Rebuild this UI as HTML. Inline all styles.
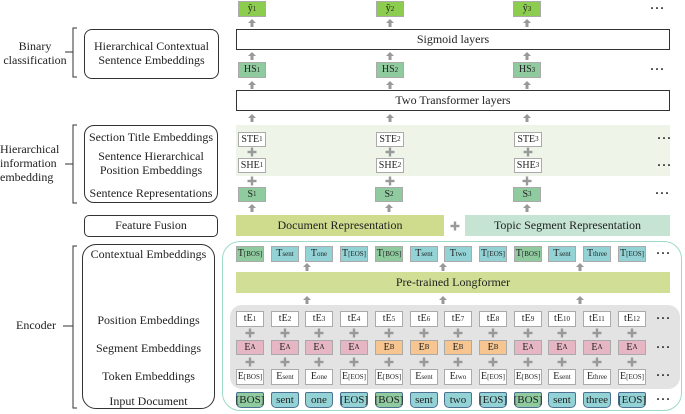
<!DOCTYPE html>
<html><head><meta charset="utf-8"><style>
body{margin:0;width:685px;height:414px;position:relative;background:#fff;font-family:"Liberation Serif",serif;color:#222;overflow:hidden}
.a{position:absolute;box-sizing:border-box}
.c{display:flex;align-items:center;justify-content:center;text-align:center;line-height:1.15}
.sm{font-size:10px;border:1px solid #aaa}
.lb{font-size:12px}
sub{font-size:7px;vertical-align:-2px}
.g{background:#8fcb9f}
.t{background:#93d3d6}
.w{background:#fff}
.p{background:#e7b6c4}
.o{background:#f7c58f}
.in{font-size:11px;border:1px solid #4d7291;border-radius:2px 2px 5px 5px}
.dots{font-size:12px;font-weight:bold;letter-spacing:1px}
</style></head><body>
<!-- left labels -->
<div class="a c lb" style="left:0;top:38px;width:70px;height:32px">Binary<br>classification</div>
<div class="a c lb" style="left:84px;top:29px;width:135px;height:50px;border:1px solid #333;border-radius:8px">Hierarchical Contextual<br>Sentence Embeddings</div>
<div class="a c lb" style="left:0;top:140px;width:64px;height:48px;justify-content:flex-start;text-align:left">Hierarchical<br>information<br>embedding</div>
<div class="a lb" style="left:84px;top:125px;width:134px;height:78px;border:1px solid #333;border-radius:10px"></div>
<div class="a c lb" style="left:84px;top:131px;width:134px">Section Title Embeddings</div>
<div class="a c lb" style="left:84px;top:150px;width:134px">Sentence Hierarchical<br>Position Embeddings</div>
<div class="a c lb" style="left:84px;top:187px;width:134px">Sentence Representations</div>
<div class="a c lb" style="left:84px;top:215px;width:134px;height:22px;border:1px solid #333;border-radius:5px">Feature Fusion</div>
<div class="a c lb" style="left:0;top:318px;width:72px;height:16px">Encoder</div>
<div class="a lb" style="left:82px;top:244px;width:133px;height:165px;border:1px solid #333;border-radius:14px"></div>
<div class="a c lb" style="left:82px;top:248px;width:133px">Contextual Embeddings</div>
<div class="a c lb" style="left:82px;top:314px;width:133px">Position Embeddings</div>
<div class="a c lb" style="left:82px;top:342px;width:133px">Segment Embeddings</div>
<div class="a c lb" style="left:82px;top:370px;width:133px">Token Embeddings</div>
<div class="a c lb" style="left:82px;top:395px;width:133px">Input Document</div>

<!-- right top -->
<div class="a" style="left:236px;top:125px;width:434px;height:51px;background:#eef5e8"></div>
<div class="a c sm" style="left:238px;top:1px;width:28px;height:16px;background:#8ccc4e">ŷ<sub>1</sub></div>
<div class="a c sm" style="left:376px;top:1px;width:28px;height:16px;background:#8ccc4e">ŷ<sub>2</sub></div>
<div class="a c sm" style="left:513px;top:1px;width:28px;height:16px;background:#8ccc4e">ŷ<sub>3</sub></div>
<div class="a dots" style="left:650px;top:1px">···</div>
<div class="a c lb" style="left:236px;top:29px;width:434px;height:21px;border:1px solid #333">Sigmoid layers</div>
<div class="a c sm g" style="left:238px;top:62px;width:28px;height:16px">HS<sub>1</sub></div>
<div class="a c sm g" style="left:376px;top:62px;width:28px;height:16px">HS<sub>2</sub></div>
<div class="a c sm g" style="left:513px;top:62px;width:28px;height:16px">HS<sub>3</sub></div>
<div class="a dots" style="left:650px;top:62px">···</div>
<div class="a c lb" style="left:236px;top:90px;width:434px;height:21px;border:1px solid #333">Two Transformer layers</div>
<div class="a c sm w" style="left:238px;top:132px;width:28px;height:15px">STE<sub>1</sub></div>
<div class="a c sm w" style="left:376px;top:132px;width:28px;height:15px">STE<sub>2</sub></div>
<div class="a c sm w" style="left:514px;top:132px;width:28px;height:15px">STE<sub>3</sub></div>
<div class="a dots" style="left:657px;top:131px">···</div>
<div class="a c sm w" style="left:238px;top:158px;width:28px;height:15px">SHE<sub>1</sub></div>
<div class="a c sm w" style="left:376px;top:158px;width:28px;height:15px">SHE<sub>2</sub></div>
<div class="a c sm w" style="left:514px;top:158px;width:28px;height:15px">SHE<sub>3</sub></div>
<div class="a dots" style="left:657px;top:158px">···</div>
<div class="a c sm g" style="left:238px;top:187px;width:28px;height:15px">S<sub>1</sub></div>
<div class="a c sm g" style="left:375px;top:187px;width:28px;height:15px">S<sub>2</sub></div>
<div class="a c sm g" style="left:513px;top:187px;width:28px;height:15px">S<sub>3</sub></div>
<div class="a dots" style="left:655px;top:186px">···</div>
<div class="a c lb" style="left:236px;top:215px;width:208px;height:21px;background:#cfdc8e">Document Representation</div>
<div class="a c lb" style="left:465px;top:215px;width:205px;height:21px;background:#c6e4d4">Topic Segment Representation</div>

<!-- encoder -->
<div class="a" style="left:222px;top:241px;width:460px;height:170px;border:1px solid #9ed9c8;border-radius:18px"></div>
<div class="a" style="left:230px;top:305px;width:450px;height:84px;background:#e3e3e3;border-radius:12px"></div>
<div class="a c lb" style="left:236px;top:272px;width:434px;height:21px;background:#d1de95">Pre-trained Longformer</div>

<div class="a c sm g" style="left:236px;top:246px;width:28px;height:16px">T<sub>[BOS]</sub></div>
<div class="a c sm t" style="left:271px;top:246px;width:28px;height:16px">T<sub>sent</sub></div>
<div class="a c sm t" style="left:305px;top:246px;width:28px;height:16px">T<sub>one</sub></div>
<div class="a c sm t" style="left:340px;top:246px;width:28px;height:16px">T<sub>[EOS]</sub></div>
<div class="a c sm g" style="left:375px;top:246px;width:28px;height:16px">T<sub>[BOS]</sub></div>
<div class="a c sm t" style="left:410px;top:246px;width:28px;height:16px">T<sub>sent</sub></div>
<div class="a c sm t" style="left:444px;top:246px;width:28px;height:16px">T<sub>two</sub></div>
<div class="a c sm t" style="left:479px;top:246px;width:28px;height:16px">T<sub>[EOS]</sub></div>
<div class="a c sm g" style="left:514px;top:246px;width:28px;height:16px">T<sub>[BOS]</sub></div>
<div class="a c sm t" style="left:548px;top:246px;width:28px;height:16px">T<sub>sent</sub></div>
<div class="a c sm t" style="left:583px;top:246px;width:28px;height:16px">T<sub>three</sub></div>
<div class="a c sm t" style="left:618px;top:246px;width:28px;height:16px">T<sub>[EOS]</sub></div>
<div class="a dots" style="left:656px;top:246px">···</div>

<div class="a c sm w" style="left:236px;top:311px;width:28px;height:16px">tE<sub>1</sub></div>
<div class="a c sm w" style="left:271px;top:311px;width:28px;height:16px">tE<sub>2</sub></div>
<div class="a c sm w" style="left:305px;top:311px;width:28px;height:16px">tE<sub>3</sub></div>
<div class="a c sm w" style="left:340px;top:311px;width:28px;height:16px">tE<sub>4</sub></div>
<div class="a c sm w" style="left:375px;top:311px;width:28px;height:16px">tE<sub>5</sub></div>
<div class="a c sm w" style="left:410px;top:311px;width:28px;height:16px">tE<sub>6</sub></div>
<div class="a c sm w" style="left:444px;top:311px;width:28px;height:16px">tE<sub>7</sub></div>
<div class="a c sm w" style="left:479px;top:311px;width:28px;height:16px">tE<sub>8</sub></div>
<div class="a c sm w" style="left:514px;top:311px;width:28px;height:16px">tE<sub>9</sub></div>
<div class="a c sm w" style="left:548px;top:311px;width:28px;height:16px">tE<sub>10</sub></div>
<div class="a c sm w" style="left:583px;top:311px;width:28px;height:16px">tE<sub>11</sub></div>
<div class="a c sm w" style="left:618px;top:311px;width:28px;height:16px">tE<sub>12</sub></div>
<div class="a dots" style="left:656px;top:311px">···</div>

<div class="a c sm p" style="left:236px;top:340px;width:28px;height:15px">E<sub>A</sub></div>
<div class="a c sm p" style="left:271px;top:340px;width:28px;height:15px">E<sub>A</sub></div>
<div class="a c sm p" style="left:305px;top:340px;width:28px;height:15px">E<sub>A</sub></div>
<div class="a c sm p" style="left:340px;top:340px;width:28px;height:15px">E<sub>A</sub></div>
<div class="a c sm o" style="left:375px;top:340px;width:28px;height:15px">E<sub>B</sub></div>
<div class="a c sm o" style="left:410px;top:340px;width:28px;height:15px">E<sub>B</sub></div>
<div class="a c sm o" style="left:444px;top:340px;width:28px;height:15px">E<sub>B</sub></div>
<div class="a c sm o" style="left:479px;top:340px;width:28px;height:15px">E<sub>B</sub></div>
<div class="a c sm p" style="left:514px;top:340px;width:28px;height:15px">E<sub>A</sub></div>
<div class="a c sm p" style="left:548px;top:340px;width:28px;height:15px">E<sub>A</sub></div>
<div class="a c sm p" style="left:583px;top:340px;width:28px;height:15px">E<sub>A</sub></div>
<div class="a c sm p" style="left:618px;top:340px;width:28px;height:15px">E<sub>A</sub></div>
<div class="a dots" style="left:656px;top:340px">···</div>

<div class="a c sm w" style="left:236px;top:369px;width:28px;height:16px">E<sub>[BOS]</sub></div>
<div class="a c sm w" style="left:271px;top:369px;width:28px;height:16px">E<sub>sent</sub></div>
<div class="a c sm w" style="left:305px;top:369px;width:28px;height:16px">E<sub>one</sub></div>
<div class="a c sm w" style="left:340px;top:369px;width:28px;height:16px">E<sub>[EOS]</sub></div>
<div class="a c sm w" style="left:375px;top:369px;width:28px;height:16px">E<sub>[BOS]</sub></div>
<div class="a c sm w" style="left:410px;top:369px;width:28px;height:16px">E<sub>sent</sub></div>
<div class="a c sm w" style="left:444px;top:369px;width:28px;height:16px">E<sub>two</sub></div>
<div class="a c sm w" style="left:479px;top:369px;width:28px;height:16px">E<sub>[EOS]</sub></div>
<div class="a c sm w" style="left:514px;top:369px;width:28px;height:16px">E<sub>[BOS]</sub></div>
<div class="a c sm w" style="left:548px;top:369px;width:28px;height:16px">E<sub>sent</sub></div>
<div class="a c sm w" style="left:583px;top:369px;width:28px;height:16px">E<sub>three</sub></div>
<div class="a c sm w" style="left:618px;top:369px;width:28px;height:16px">E<sub>[EOS]</sub></div>
<div class="a dots" style="left:656px;top:368px">···</div>

<div class="a c in g" style="left:236px;top:392px;width:28px;height:16px">[BOS]</div>
<div class="a c in t" style="left:271px;top:392px;width:28px;height:16px">sent</div>
<div class="a c in t" style="left:305px;top:392px;width:28px;height:16px">one</div>
<div class="a c in t" style="left:340px;top:392px;width:28px;height:16px">[EOS]</div>
<div class="a c in g" style="left:375px;top:392px;width:28px;height:16px">[BOS]</div>
<div class="a c in t" style="left:410px;top:392px;width:28px;height:16px">sent</div>
<div class="a c in t" style="left:444px;top:392px;width:28px;height:16px">two</div>
<div class="a c in t" style="left:479px;top:392px;width:28px;height:16px">[EOS]</div>
<div class="a c in g" style="left:514px;top:392px;width:28px;height:16px">[BOS]</div>
<div class="a c in t" style="left:548px;top:392px;width:28px;height:16px">sent</div>
<div class="a c in t" style="left:583px;top:392px;width:28px;height:16px">three</div>
<div class="a c in t" style="left:618px;top:392px;width:28px;height:16px">[EOS]</div>
<div class="a dots" style="left:656px;top:392px">···</div>

<svg class="a" style="left:0;top:0" width="685" height="414">
<defs>
<g id="ar"><polygon points="0,0 4,4 1.5,4 1.5,8 -1.5,8 -1.5,4 -4,4" fill="#999"/></g>
<g id="pl"><rect x="-4.5" y="-1.2" width="9" height="2.4" fill="#999"/><rect x="-1.2" y="-4.5" width="2.4" height="9" fill="#999"/></g>
</defs>
<g fill="none" stroke="#333" stroke-width="1">
<path d="M77,28 h-4 v49 h4 M73,52 h-8"/>
<path d="M77,125 h-4 v78 h4 M73,164 h-8"/>
<path d="M77,246 h-4 v162 h4 M73,326 h-10"/>
</g>
<use href="#ar" x="252" y="19"/><use href="#ar" x="390" y="19"/><use href="#ar" x="527" y="19"/>
<use href="#ar" x="252" y="52"/><use href="#ar" x="390" y="52"/><use href="#ar" x="527" y="52"/>
<use href="#ar" x="252" y="81"/><use href="#ar" x="390" y="81"/><use href="#ar" x="527" y="81"/>
<use href="#ar" x="252" y="114"/><use href="#ar" x="390" y="114"/><use href="#ar" x="527" y="114"/>
<use href="#ar" x="252" y="204"/><use href="#ar" x="389" y="204"/><use href="#ar" x="527" y="204"/>
<use href="#ar" x="307" y="263"/><use href="#ar" x="443" y="263"/><use href="#ar" x="580" y="263"/>
<use href="#ar" x="307" y="296"/><use href="#ar" x="443" y="296"/><use href="#ar" x="580" y="296"/>
<use href="#pl" x="252" y="152"/><use href="#pl" x="390" y="152"/><use href="#pl" x="528" y="152"/>
<use href="#pl" x="252" y="181"/><use href="#pl" x="390" y="181"/><use href="#pl" x="527" y="181"/>
<use href="#pl" x="455" y="226"/>
<g>
<use href="#pl" x="250" y="333"/><use href="#pl" x="285" y="333"/><use href="#pl" x="319" y="333"/><use href="#pl" x="354" y="333"/><use href="#pl" x="389" y="333"/><use href="#pl" x="424" y="333"/><use href="#pl" x="458" y="333"/><use href="#pl" x="493" y="333"/><use href="#pl" x="528" y="333"/><use href="#pl" x="562" y="333"/><use href="#pl" x="597" y="333"/><use href="#pl" x="632" y="333"/>
<use href="#pl" x="250" y="362"/><use href="#pl" x="285" y="362"/><use href="#pl" x="319" y="362"/><use href="#pl" x="354" y="362"/><use href="#pl" x="389" y="362"/><use href="#pl" x="424" y="362"/><use href="#pl" x="458" y="362"/><use href="#pl" x="493" y="362"/><use href="#pl" x="528" y="362"/><use href="#pl" x="562" y="362"/><use href="#pl" x="597" y="362"/><use href="#pl" x="632" y="362"/>
</g>
</svg>
</body></html>
